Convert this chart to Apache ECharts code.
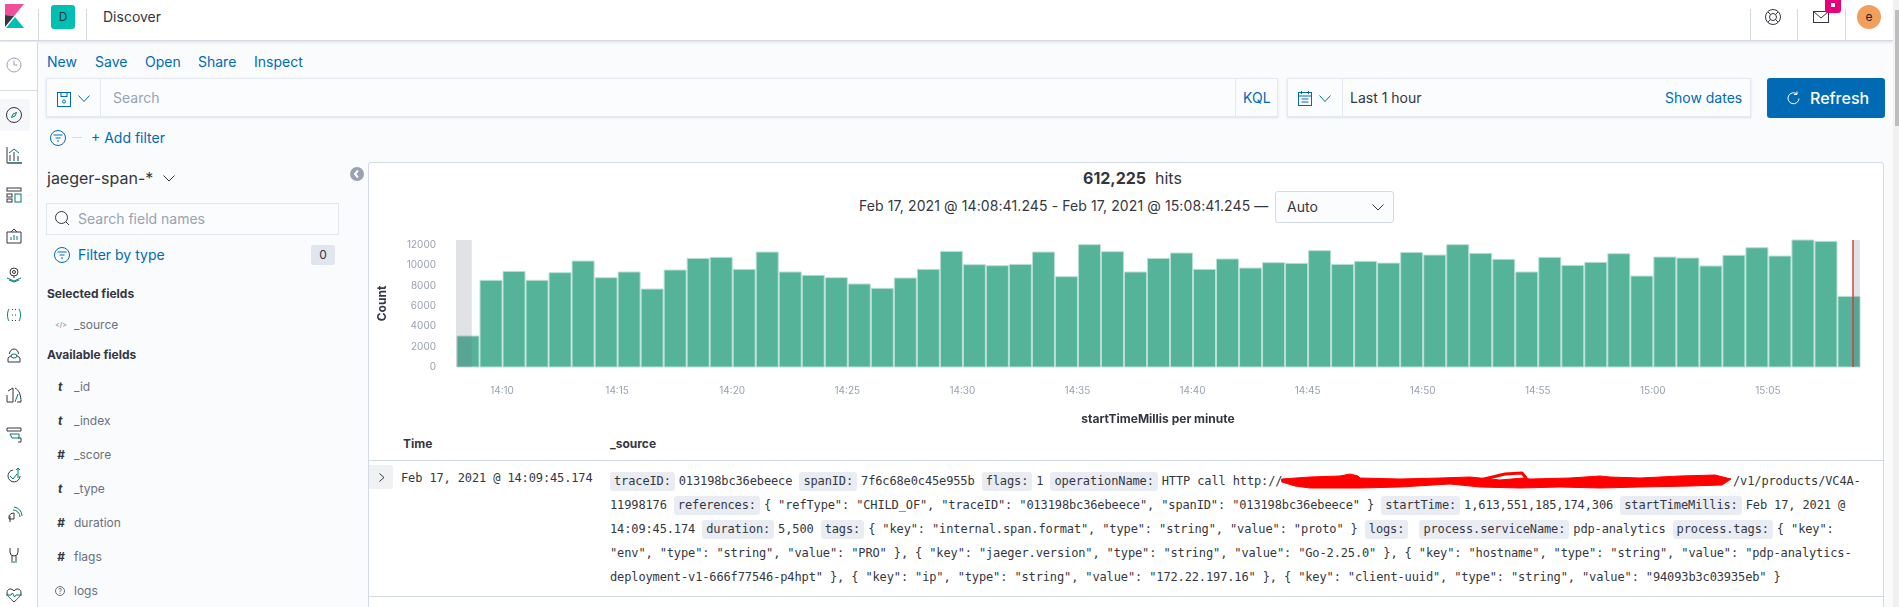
<!DOCTYPE html>
<html>
<head>
<meta charset="utf-8">
<title>Discover</title>
<script src="https://cdn.jsdelivr.net/npm/echarts@6/dist/echarts.min.js"></script>
<style>
html,body{margin:0;padding:0;width:1899px;height:607px;overflow:hidden;background:#fafbfd;font-family:Inter,"Noto Sans",sans-serif;color:#343741;font-size:14px;}
.a{position:absolute;white-space:pre;line-height:20px;}
.box{position:absolute;box-sizing:border-box;}
.link{color:#006bb4;}
.gray{color:#98a2b3;}
.fld{color:#69707d;font-size:12px;}
.bold12{font-weight:700;font-size:12px;}
.line{position:absolute;left:610px;white-space:pre;font-family:"DejaVu Sans Mono",monospace;font-size:12px;letter-spacing:-.13px;line-height:19px;color:#343741;}
.line span{background:#e9edf3;border-radius:3px;padding:0 4px;margin-right:4px;display:inline-block;}
svg.i{position:absolute;overflow:visible;fill:none;stroke:#343741;stroke-width:1;}
#main{position:absolute;left:369px;top:230px;width:1515px;height:195px;}
</style>
</head>
<body>

<!-- header -->
<div class="box" style="left:0;top:0;width:1893px;height:41px;background:#fff;border-bottom:1px solid #d3dae6;box-shadow:0 1px 3px rgba(152,162,179,.35);"></div>
<svg class="i" style="left:0;top:0;stroke:none" width="30" height="30">
	<polygon points="5,4 24,4 14,16 5,15" fill="#f04e98"/>
	<polygon points="5,15 14,16 5,27" fill="#343741"/>
	<polygon points="6,28 24,28 15,17" fill="#00bfb3"/>
</svg>
<div class="box" style="left:38px;top:9px;width:1px;height:32px;background:#d3dae6;"></div>
<div class="box" style="left:51px;top:5px;width:24px;height:24px;background:#00bfb3;border-radius:3px;text-align:center;line-height:24px;font-size:12px;">D</div>
<div class="box" style="left:86px;top:9px;width:1px;height:32px;background:#d3dae6;"></div>
<div class="a" style="left:103px;top:7px;">Discover</div>
<div class="box" style="left:1750px;top:9px;width:1px;height:32px;background:#d3dae6;"></div>
<div class="box" style="left:1797px;top:9px;width:1px;height:32px;background:#d3dae6;"></div>
<div class="box" style="left:1845px;top:9px;width:1px;height:32px;background:#d3dae6;"></div>
<svg class="i" style="left:1765px;top:9px" width="16" height="16"><circle cx="8" cy="8" r="7.500"/><circle cx="8" cy="8" r="3.500"/><path d="M3 3l2.500 2.500M13 3l-2.500 2.500M3 13l2.500-2.500M13 13l-2.500-2.500"/></svg>
<svg class="i" style="left:1813px;top:11px" width="16" height="12"><rect x=".5" y=".5" width="15" height="11"/><path d="M.5 .5L8 7l7.500-6.500"/></svg>
<div class="box" style="left:1825px;top:0;width:16px;height:13px;background:#e6007e;border-radius:0 0 3px 3px;"></div>
<div class="box" style="left:1831px;top:3px;width:4px;height:4px;background:#fff;"></div>
<div class="box" style="left:1857px;top:5px;width:24px;height:24px;background:#f19f5b;border-radius:50%;text-align:center;line-height:23px;font-size:12px;color:#222;">e</div>

<!-- scrollbar -->
<div class="box" style="left:1893px;top:0;width:6px;height:607px;background:#f1f1f1;"></div>
<div class="box" style="left:1895px;top:10px;width:4px;height:116px;background:#bdbdbd;"></div>

<!-- left nav -->
<div class="box" style="left:0;top:42px;width:38px;height:565px;background:#fff;border-right:1px solid #d3dae6;"></div>
<div class="box" style="left:0;top:90px;width:38px;height:1px;background:#d3dae6;"></div>
<div class="box" style="left:0;top:99px;width:30px;height:32px;background:#f5f7fa;border-radius:0 3px 3px 0;"></div>
<svg class="i" style="left:6px;top:57px;stroke:#98a2b3" width="16" height="16"><circle cx="8" cy="8" r="7"/><path d="M8 3.500V8h3.500"/></svg>
<div id="nav"></div>

<!-- query bar -->
<div class="a link" style="left:47px;top:52px;">New</div>
<div class="a link" style="left:95px;top:52px;">Save</div>
<div class="a link" style="left:145px;top:52px;">Open</div>
<div class="a link" style="left:198px;top:52px;">Share</div>
<div class="a link" style="left:254px;top:52px;">Inspect</div>

<div class="box" style="left:46px;top:78px;width:1232px;height:39px;background:#fbfcfd;border:1px solid #e4e8f0;box-shadow:0 1px 2px rgba(152,162,179,.3);"></div>
<svg class="i" style="left:57px;top:92px;stroke:#006bb4" width="14" height="14"><rect x=".5" y=".5" width="13" height="14"/><rect x="4" y=".5" width="6" height="4"/><circle cx="7" cy="9.500" r="1.500"/></svg>
<svg class="i" style="left:78px;top:95px;stroke:#006bb4" width="12" height="8"><path d="M.5 .5L6 6.500 11.500 .5"/></svg>
<div class="box" style="left:100px;top:79px;width:1px;height:37px;background:#e4e8f0;"></div>
<div class="a gray" style="left:113px;top:88px;">Search</div>
<div class="box" style="left:1235px;top:79px;width:1px;height:37px;background:#e4e8f0;"></div>
<div class="a link" style="left:1243px;top:88px;">KQL</div>

<div class="box" style="left:1287px;top:78px;width:464px;height:39px;background:#fbfcfd;border:1px solid #e4e8f0;box-shadow:0 1px 2px rgba(152,162,179,.3);"></div>
<svg class="i" style="left:1298px;top:91px;stroke:#006bb4" width="14" height="15"><rect x=".5" y="1.500" width="13" height="13"/><path d="M.5 5h13M3.500 8h7M3.500 11h7M3.500 0v3M10.500 0v3"/></svg>
<svg class="i" style="left:1319px;top:95px;stroke:#006bb4" width="12" height="8"><path d="M.5 .5L6 6.500 11.500 .5"/></svg>
<div class="box" style="left:1342px;top:79px;width:1px;height:37px;background:#e4e8f0;"></div>
<div class="a" style="left:1350px;top:88px;">Last 1 hour</div>
<div class="a link" style="left:1665px;top:88px;">Show dates</div>

<div class="box" style="left:1767px;top:78px;width:118px;height:40px;background:#006bb4;border-radius:3px;"></div>
<svg class="i" style="left:1787px;top:91px;stroke:#fff" width="13" height="14"><path d="M10 3a5.500 5.500 0 1 0 2 4.500M10 .5V3.500H7"/></svg>
<div class="a" style="left:1810px;top:87px;color:#fff;font-size:16px;font-weight:500;line-height:22px;">Refresh</div>

<!-- filter row -->
<svg class="i" style="left:50px;top:130px;stroke:#006bb4" width="16" height="16"><circle cx="8" cy="8" r="7.500"/><path d="M3.500 5h9M5.500 8h5M7 11h2"/></svg>
<div class="box" style="left:72px;top:137px;width:10px;height:1px;background:#d3dae6;"></div>
<div class="a link" style="left:91px;top:128px;">+ Add filter</div>

<!-- sidebar -->
<div class="a" style="left:47px;top:168px;font-size:16px;">jaeger-span-*</div>
<svg class="i" style="left:163px;top:175px" width="12" height="7"><path d="M.5 .5L6 6 11.500 .5"/></svg>
<div class="box" style="left:350px;top:167px;width:14px;height:14px;background:#98a2b3;border-radius:50%;"></div>
<svg class="i" style="left:354px;top:170px;stroke:#fff;stroke-width:2" width="5" height="8"><path d="M4 .5L1 4l3 3.500"/></svg>

<div class="box" style="left:46px;top:203px;width:293px;height:32px;background:#fbfcfd;border:1px solid #e1e5ef;"></div>
<svg class="i" style="left:55px;top:211px" width="14" height="14"><circle cx="6.500" cy="6.500" r="6"/><path d="M11 11l3 3"/></svg>
<div class="a gray" style="left:78px;top:209px;">Search field names</div>
<svg class="i" style="left:54px;top:247px;stroke:#006bb4" width="16" height="16"><circle cx="8" cy="8" r="7.500"/><path d="M3.500 5h9M5.500 8h5M7 11h2"/></svg>
<div class="a link" style="left:78px;top:245px;">Filter by type</div>
<div class="box" style="left:311px;top:245px;width:24px;height:20px;background:#e0e5ee;border-radius:3px;text-align:center;line-height:20px;font-size:12px;">0</div>
<div class="a bold12" style="left:47px;top:284px;">Selected fields</div>
<div class="a bold12" style="left:47px;top:345px;">Available fields</div>
<div id="fields"></div>

<!-- results panel -->
<div class="box" style="left:368px;top:162px;width:1516px;height:460px;background:#fff;border:1px solid #d3dae6;border-radius:3px;"></div>
<div class="a" style="left:1083px;top:168px;font-size:16px;font-weight:700;">612,225</div>
<div class="a" style="left:1155px;top:168px;font-size:16px;color:#343741;">hits</div>
<div class="a" style="left:859px;top:196px;letter-spacing:.1px;">Feb 17, 2021 @ 14:08:41.245 - Feb 17, 2021 @ 15:08:41.245 —</div>
<div class="box" style="left:1275px;top:191px;width:119px;height:32px;background:#fbfcfd;border:1px solid #d3dae6;border-radius:3px;"></div>
<div class="a" style="left:1287px;top:197px;">Auto</div>
<svg class="i" style="left:1372px;top:204px" width="12" height="7"><path d="M.5 .5L6 6 11.500 .5"/></svg>

<div id="main"></div>

<!-- doc table -->
<div class="a bold12" style="left:403px;top:434px;">Time</div>
<div class="a bold12" style="left:610px;top:434px;">_source</div>
<div class="box" style="left:369px;top:460px;width:1514px;height:1px;background:#d3dae6;"></div>
<div class="box" style="left:369px;top:596px;width:1514px;height:1px;background:#d3dae6;"></div>
<div class="box" style="left:369px;top:465px;width:24px;height:24px;background:#f0f1f3;border-radius:0 3px 3px 0;"></div>
<svg class="i" style="left:379px;top:473px;stroke:#343741" width="6" height="9"><path d="M.5 .5L5 4.500 .5 8.500"/></svg>
<div class="line" id="time" style="left:401px;top:469px;"></div>
<div id="source"></div>
<!-- red scribble over the hostname in the url -->
<svg class="i" style="left:0;top:0;stroke:#ff0000;stroke-linecap:round;stroke-linejoin:round" width="1899" height="607">
	<polygon fill="#ff0000" stroke-width="1" points="1282,479 1310,477 1340,476 1350,474 1358,476 1360,478 1400,479 1440,478 1470,477 1500,480 1523,478 1530,479 1570,478 1600,476 1610,477 1640,478 1680,476 1715,475 1731,479 1722,485 1690,486 1640,487 1600,488 1560,487 1520,488 1480,487 1450,484 1400,487 1360,488 1310,488 1295,486 1282,482"/>
	<path d="M1480 480 L1505 474 L1522 473 L1526 478 L1520 484" stroke-width="3"/>
</svg>

<script>
var startTime = Date.UTC(2021, 1, 17, 14, 8);
var endTime = Date.UTC(2021, 1, 17, 15, 9);
var rangeStart = Date.UTC(2021, 1, 17, 14, 8, 41, 245);
var rangeEnd = Date.UTC(2021, 1, 17, 15, 8, 41, 245);
var bucketSize = 60000;

// docs per minute, 14:08 to 15:08
var counts = [3050, 8530, 9410, 8530, 9280, 10430, 8790, 9350, 7675, 9545,
	10690, 10790, 9610, 11315, 9350, 9020, 8790, 8170, 7740, 8760,
	9610, 11380, 10070, 9970, 10100, 11315, 8890, 12040, 11350, 9350,
	10690, 11220, 9610, 10630, 9740, 10270, 10200, 11450, 10100, 10400,
	10230, 11280, 11020, 12040, 11185, 10595, 9350, 10790, 10000, 10300,
	11150, 8950, 10820, 10725, 9940, 10990, 11740, 10920, 12500, 12365, 6950];

var fieldNames = ["_id", "_index", "_score", "_type", "duration", "flags", "logs"];
var fieldTypes = ["t", "t", "#", "t", "#", "#", "?"];

var sourceLines = [
	'{{traceID:}}013198bc36ebeece {{spanID:}}7f6c68e0c45e955b {{flags:}}1 {{operationName:}}HTTP call http://',
	'11998176 {{references:}}{ "refType": "CHILD_OF", "traceID": "013198bc36ebeece", "spanID": "013198bc36ebeece" } {{startTime:}}1,613,551,185,174,306 {{startTimeMillis:}}Feb 17, 2021 @',
	'14:09:45.174 {{duration:}}5,500 {{tags:}}{ "key": "internal.span.format", "type": "string", "value": "proto" } {{logs:}} {{process.serviceName:}}pdp-analytics {{process.tags:}}{ "key":',
	'"env", "type": "string", "value": "PRO" }, { "key": "jaeger.version", "type": "string", "value": "Go-2.25.0" }, { "key": "hostname", "type": "string", "value": "pdp-analytics-',
	'deployment-v1-666f77546-p4hpt" }, { "key": "ip", "type": "string", "value": "172.22.197.16" }, { "key": "client-uuid", "type": "string", "value": "94093b3c03935eb" }'
];
var urlTail = "/v1/products/VC4A-";
var rowTime = "Feb 17, 2021 @ 14:09:45.174";

// simple outline icons for the nav column, dark stroke plus one teal stroke
var navIcons = [
	['<circle cx="8" cy="8" r="7.500"/>', '<path d="M10.500 5.500L9 9l-3.500 1.500L7 7z"/>'],
	['<path d="M1 0v16h15M4 14V8M8 14V5M12 14V9"/>', '<path d="M2 16h14M3 6l5-4 5 4"/>'],
	['<rect x="1" y="1" width="14" height="3"/><rect x="1" y="7" width="5" height="3"/><rect x="1" y="12" width="5" height="3"/>', '<rect x="9" y="7" width="6" height="8"/>'],
	['<path d="M1 4h14v11H1zM5 4l3-3 3 3"/>', '<path d="M5 12V9M8 12V7M11 12V8"/>'],
	['<circle cx="8" cy="5" r="4"/><circle cx="8" cy="5" r="1.500"/><path d="M8 9v2"/>', '<path d="M1 11l7 3 7-3M3 13l5 2 5-2"/>'],
	['<path d="M6 2.500h1M9 2.500h1M6 8h1M9 8h1M6 13.500h1M9 13.500h1"/>', '<path d="M3 2C1 5 1 11 3 14M13 2c2 3 2 9 0 12"/>'],
	['<path d="M2 15V11l4-3M14 15V11l-4-3M2 15h12M3.500 7a4.500 5 0 0 1 9 0"/>', '<path d="M5 9a3 2 0 0 1 6 0 3 2 0 0 1-6 0"/>'],
	['<path d="M2 4l5-3v14H1V8M9 1c4 2 6 7 6 14h-4"/>', '<path d="M9 15l3-8"/>'],
	['<path d="M1 1h14v3H1zM12 11h3v4h-3"/>', '<path d="M4 7h9v4H6z"/>'],
	['<path d="M7 3a6 6 0 1 0 7 6"/>', '<path d="M4 9l3 3 4-5M12 11V1m-2 2l2-2 2 2"/>'],
	['<path d="M3 9a5 5 0 0 1 5-3v6H3z"/><path d="M4 9v6"/>', '<path d="M7 3a7 7 0 0 1 7 7M8 0a9 9 0 0 1 8 9"/>'],
	['<path d="M4 1v4a4 4 0 0 0 8 0V1M6 9v5M10 9v5"/>', '<path d="M5 15h6"/>'],
	['<path d="M8 4C6 1 1 1 1 6c0 3 4 6 7 9 3-3 7-6 7-9 0-5-5-5-7-2z"/>', '<path d="M0 8h5l1.500-2 2 4L10 8h6"/>']
];
var navY = [115, 155, 195, 236, 275, 315, 355, 395, 435, 475, 515, 555, 595];

function buildNav(){
	var html = "";
	for(var i=0;i<navIcons.length;i++){
		html += '<svg class="i" style="left:6px;top:'+(navY[i]-8)+'px" width="16" height="16">'
			+ navIcons[i][0] + '<g stroke="#017d73">' + navIcons[i][1] + '</g></svg>';
	}
	document.getElementById("nav").innerHTML = html;
}

function buildFields(){
	var html = '<div class="a" style="left:55px;top:315px;font-size:7px;color:#69707d;">&lt;/&gt;</div>'
		+ '<div class="a fld" style="left:74px;top:315px;">_source</div>';
	for(var i=0;i<fieldNames.length;i++){
		var y = 387 + i*34;
		var t = fieldTypes[i];
		if(t == "?"){
			html += '<div class="box" style="left:55px;top:'+(y-5)+'px;width:10px;height:10px;border:1px solid #69707d;border-radius:50%;font-size:8px;line-height:9px;text-align:center;color:#69707d;">?</div>';
		}else{
			html += '<div class="a" style="left:'+(t=="t"?58:57)+'px;top:'+(y-10)+'px;font-size:12px;font-weight:700;font-style:italic;">'+t+'</div>';
		}
		html += '<div class="a fld" style="left:74px;top:'+(y-10)+'px;">'+fieldNames[i]+'</div>';
	}
	document.getElementById("fields").innerHTML = html;
}

function escapeText(s){
	return s.replace(/&/g,"&amp;").replace(/</g,"&lt;");
}

function buildSource(){
	var html = "";
	for(var i=0;i<sourceLines.length;i++){
		var t = escapeText(sourceLines[i]).replace(/\{\{(.*?)\}\}/g, "<span>$1</span>");
		html += '<div class="line" style="top:'+(472+i*24)+'px;">'+t+'</div>';
	}
	html += '<div class="line" style="left:1733px;top:472px;">'+urlTail+'</div>';
	document.getElementById("source").innerHTML = html;
	document.getElementById("time").textContent = rowTime;
}

function pad2(n){
	return (n<10?"0":"")+n;
}

// a plain bar series widens a time axis past min/max, so the buckets are drawn
// as rects from minute start to minute end with the axis own scale
function renderBucket(params, api){
	var t = api.value(0);
	var topLeft = api.coord([t, api.value(1)]);
	var bottomRight = api.coord([t + bucketSize, 0]);
	return {
		type: "rect",
		shape: {
			x: topLeft[0] + 1,
			y: topLeft[1],
			width: bottomRight[0] - topLeft[0] - 1,
			height: bottomRight[1] - topLeft[1]
		},
		style: {fill: "#54b399", stroke: "#b9e0d4", lineWidth: 1}
	};
}

function initChart(){
	var chart = echarts.init(document.getElementById("main"));
	var data = [];
	for(var i=0;i<counts.length;i++){
		data.push([startTime + i*bucketSize, counts[i]]);
	}
	chart.setOption({
		useUTC: true,
		animation: false,
		grid: {left: 87, right: 24, top: 10, height: 127, outerBoundsMode: "none"},
		xAxis: {
			type: "time",
			min: startTime,
			max: endTime,
			// 6 min is what makes the time scale pick 5 minute steps
			minInterval: 360000,
			maxInterval: 360000,
			name: "startTimeMillis per minute",
			nameLocation: "middle",
			nameGap: 46,
			nameTextStyle: {color: "#343741", fontWeight: 700, fontSize: 12, fontFamily: "Inter"},
			axisLine: {show: false},
			axisTick: {show: false},
			splitLine: {show: false},
			axisLabel: {
				color: "#98a2b3",
				fontSize: 10,
				fontFamily: "Inter",
				margin: 19,
				showMinLabel: false,
				showMaxLabel: false,
				formatter: function(v){
					var d = new Date(v);
					return pad2(d.getUTCHours())+":"+pad2(d.getUTCMinutes());
				}
			}
		},
		yAxis: {
			type: "value",
			min: 0,
			max: 12500,
			interval: 2000,
			name: "Count",
			nameLocation: "middle",
			nameRotate: 90,
			nameGap: 68,
			nameTextStyle: {color: "#343741", fontWeight: 700, fontSize: 12, fontFamily: "Inter"},
			axisLine: {show: false},
			axisTick: {show: false},
			splitLine: {show: false},
			axisLabel: {
				color: "#98a2b3",
				fontSize: 10,
				fontFamily: "Inter",
				margin: 20,
				showMaxLabel: false,
				formatter: function(v){ return String(v); }
			}
		},
		series: [{
			type: "custom",
			renderItem: renderBucket,
			encode: {x: 0, y: 1},
			data: data,
			markArea: {
				silent: true,
				z: 3,
				itemStyle: {color: "rgba(105,112,125,.2)"},
				data: [
					[{xAxis: startTime}, {xAxis: rangeStart}],
					[{xAxis: rangeEnd}, {xAxis: endTime}]
				]
			},
			markLine: {
				silent: true,
				z: 4,
				symbol: "none",
				label: {show: false},
				lineStyle: {color: "#cf3a3a", opacity: .7, width: 2, type: "solid"},
				data: [{xAxis: rangeEnd}]
			}
		}]
	});
}

buildNav();
buildFields();
buildSource();
initChart();
</script>
</body>
</html>
